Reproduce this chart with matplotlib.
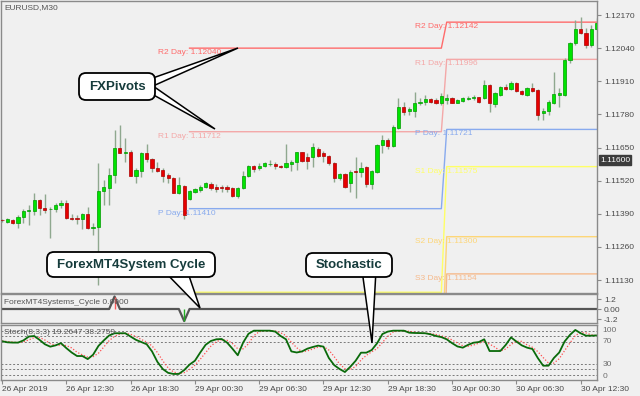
import numpy as np
import matplotlib.pyplot as plt
from matplotlib.patches import FancyBboxPatch, Polygon
from matplotlib.transforms import blended_transform_factory

plt.rcParams['font.family'] = ['Liberation Sans', 'DejaVu Sans']

# EURUSD M30 candles, bar 0 = 26 Apr 06:30
opens = [1.11367, 1.11359, 1.11366, 1.11353, 1.11379, 1.11401, 1.11402, 1.11444, 1.11414, 1.11407,
         1.11408, 1.11424, 1.11431, 1.11375, 1.11371, 1.11368, 1.11389, 1.11333, 1.11337, 1.11479,
         1.11490, 1.11542, 1.11647, 1.11627, 1.11634, 1.11539, 1.11559, 1.11630, 1.11605, 1.11568,
         1.11562, 1.11542, 1.11532, 1.11473, 1.11499, 1.11448, 1.11477, 1.11483, 1.11496, 1.11507,
         1.11496, 1.11493, 1.11494, 1.11490, 1.11460, 1.11490, 1.11538, 1.11577, 1.11568, 1.11579,
         1.11584, 1.11585, 1.11579, 1.11572, 1.11585, 1.11594, 1.11631, 1.11614, 1.11614, 1.11645,
         1.11630, 1.11618, 1.11590, 1.11529, 1.11545, 1.11512, 1.11556, 1.11555, 1.11572, 1.11506,
         1.11555, 1.11660, 1.11680, 1.11656, 1.11725, 1.11810, 1.11793, 1.11795, 1.11824, 1.11830,
         1.11840, 1.11837, 1.11824, 1.11837, 1.11843, 1.11826, 1.11834, 1.11840, 1.11846, 1.11847,
         1.11843, 1.11895, 1.11820, 1.11856, 1.11889, 1.11880, 1.11905, 1.11872, 1.11856, 1.11885,
         1.11876, 1.11784, 1.11793, 1.11824, 1.11856, 1.11856, 1.11994, 1.12059, 1.12114, 1.12101,
         1.12052, 1.12114]
highs = [1.11369, 1.11375, 1.11368, 1.11385, 1.11408, 1.11424, 1.11473, 1.11447, 1.11468, 1.11415,
         1.11431, 1.11444, 1.11444, 1.11389, 1.11385, 1.11394, 1.11418, 1.11353, 1.11590, 1.11523,
         1.11571, 1.11719, 1.11738, 1.11686, 1.11640, 1.11568, 1.11634, 1.11663, 1.11607, 1.11594,
         1.11568, 1.11549, 1.11536, 1.11536, 1.11503, 1.11483, 1.11490, 1.11503, 1.11514, 1.11516,
         1.11507, 1.11503, 1.11503, 1.11496, 1.11496, 1.11559, 1.11581, 1.11581, 1.11588, 1.11592,
         1.11601, 1.11592, 1.11581, 1.11663, 1.11601, 1.11634, 1.11634, 1.11627, 1.11669, 1.11651,
         1.11638, 1.11621, 1.11594, 1.11551, 1.11549, 1.11562, 1.11614, 1.11594, 1.11577, 1.11562,
         1.11664, 1.11699, 1.11686, 1.11738, 1.11843, 1.11830, 1.11810, 1.11869, 1.11843, 1.11856,
         1.11843, 1.11843, 1.11863, 1.11860, 1.11847, 1.11840, 1.11849, 1.11852, 1.11856, 1.11849,
         1.11915, 1.11899, 1.11869, 1.11891, 1.11899, 1.11912, 1.11908, 1.11876, 1.11886, 1.11902,
         1.11879, 1.11804, 1.11837, 1.11948, 1.11884, 1.12000, 1.12065, 1.12151, 1.12161, 1.12118,
         1.12131, 1.12157]
lows = [1.11358, 1.11355, 1.11350, 1.11333, 1.11353, 1.11346, 1.11385, 1.11385, 1.11392, 1.11294,
        1.11398, 1.11411, 1.11368, 1.11366, 1.11350, 1.11329, 1.11329, 1.11307, 1.11110, 1.11424,
        1.11424, 1.11512, 1.11627, 1.11594, 1.11538, 1.11510, 1.11533, 1.11594, 1.11555, 1.11555,
        1.11516, 1.11510, 1.11470, 1.11468, 1.11368, 1.11444, 1.11473, 1.11477, 1.11492, 1.11483,
        1.11477, 1.11477, 1.11477, 1.11457, 1.11451, 1.11486, 1.11536, 1.11555, 1.11562, 1.11575,
        1.11577, 1.11565, 1.11568, 1.11568, 1.11559, 1.11562, 1.11594, 1.11565, 1.11575, 1.11614,
        1.11594, 1.11581, 1.11516, 1.11523, 1.11490, 1.11477, 1.11451, 1.11536, 1.11496, 1.11486,
        1.11551, 1.11627, 1.11643, 1.11651, 1.11722, 1.11778, 1.11778, 1.11771, 1.11817, 1.11817,
        1.11826, 1.11821, 1.11817, 1.11821, 1.11824, 1.11824, 1.11830, 1.11837, 1.11837, 1.11824,
        1.11839, 1.11791, 1.11810, 1.11852, 1.11876, 1.11876, 1.11869, 1.11856, 1.11852, 1.11869,
        1.11758, 1.11758, 1.11778, 1.11820, 1.11809, 1.11852, 1.11981, 1.12052, 1.12096, 1.12039,
        1.12046, 1.12111]
closes = [1.11364, 1.11368, 1.11353, 1.11379, 1.11401, 1.11403, 1.11444, 1.11414, 1.11405, 1.11409,
          1.11424, 1.11433, 1.11372, 1.11368, 1.11369, 1.11388, 1.11333, 1.11339, 1.11481, 1.11496,
          1.11542, 1.11647, 1.11630, 1.11634, 1.11539, 1.11562, 1.11630, 1.11605, 1.11568, 1.11559,
          1.11539, 1.11529, 1.11473, 1.11503, 1.11385, 1.11479, 1.11486, 1.11496, 1.11510, 1.11490,
          1.11487, 1.11491, 1.11487, 1.11461, 1.11490, 1.11538, 1.11577, 1.11566, 1.11579, 1.11588,
          1.11586, 1.11579, 1.11572, 1.11588, 1.11594, 1.11631, 1.11597, 1.11598, 1.11651, 1.11617,
          1.11618, 1.11588, 1.11529, 1.11545, 1.11496, 1.11555, 1.11554, 1.11568, 1.11506, 1.11558,
          1.11660, 1.11680, 1.11657, 1.11732, 1.11810, 1.11791, 1.11800, 1.11826, 1.11830, 1.11840,
          1.11830, 1.11824, 1.11852, 1.11846, 1.11826, 1.11837, 1.11843, 1.11846, 1.11848, 1.11827,
          1.11895, 1.11824, 1.11863, 1.11886, 1.11880, 1.11905, 1.11872, 1.11859, 1.11882, 1.11873,
          1.11778, 1.11793, 1.11830, 1.11860, 1.11862, 1.11994, 1.12059, 1.12114, 1.12098, 1.12052,
          1.12114, 1.12138]

# daily pivots: 29 Apr (from bar 35) and 30 Apr (from bar 83)
pivot_names = ['R2', 'R1', 'P', 'S1', 'S2', 'S3']
pivots_29apr = [1.12040, 1.11712, 1.11410, 1.11082, 1.10780, 1.10452]
pivots_30apr = [1.12142, 1.11996, 1.11721, 1.11575, 1.11300, 1.11154]
pivot_colors = ['#ff6b6b', '#f4a8a8', '#88aaee', '#ffff66', '#fdd678', '#f6ba8c']
day1_bar, day2_bar = 35, 83

# ForexMT4Systems_Cycle: flat except two spikes
cycle_spikes = {21: 1.5, 34: -1.45}

# Stoch(8,3,3) main and signal
stoch_main = [70.5, 68.5, 68, 68, 72, 79, 80, 73, 65, 60.6, 63, 67, 58, 50, 43.6, 43.6, 38, 46, 62, 72,
              81, 85, 85, 85, 79, 73, 69, 65, 52, 33, 20, 13, 11, 11, 18, 28, 35, 50, 64, 71,
              74, 74.5, 68, 57, 45, 68, 84, 89.7, 89.7, 89.7, 89.7, 88, 80, 74, 52, 50, 52, 57, 60, 62.5,
              60.6, 40, 27, 20, 14.5, 24, 35, 49.7, 49.7, 54.5, 66.7, 83.6, 88, 89.7, 89.7, 89.7, 86, 85.5, 85.3, 85,
              83, 80, 78, 74, 67, 61, 58.8, 64, 67.8, 69, 74, 52.7, 52.7, 52.7, 63.6, 77.5, 70, 63, 58.8, 56.4,
              40, 26, 26, 40, 50, 70, 82, 91, 85, 80.6, 80.6, 81]
stoch_signal = [71, 70, 69, 68.2, 69.3, 73, 77, 77.3, 72.7, 66.2, 62.9, 63.5, 62.7, 58.3, 50.5, 45.7, 41.7, 42.5, 48.7, 60,
                71.7, 79.3, 83.7, 85, 83, 79, 73.7, 69, 62, 50, 35, 22, 14.7, 11.7, 13.3, 19, 27, 37.7, 49.7, 61.7,
                69.7, 73.2, 72.2, 66.5, 56.7, 56.7, 65.7, 80.6, 87.8, 89.7, 89.7, 89.1, 85.9, 80.7, 68.7, 58.7, 51.3, 53, 56.3, 59.8,
                61, 54.4, 42.5, 29, 20.5, 19.5, 24.5, 36.2, 44.8, 51.3, 57, 68.3, 79.4, 87.1, 89.1, 89.7, 88.5, 87.1, 85.6, 85.3,
                84.4, 82.7, 80.3, 77.3, 73, 67.3, 62.3, 61.3, 63.5, 67, 70.3, 65.2, 59.8, 52.7, 56.3, 64.6, 70.4, 70.2, 63.9, 59.4,
                51.7, 40.8, 30.7, 30.7, 38.7, 53.3, 67.3, 81, 86, 85.5, 82, 80.7]
stoch_levels = [90, 80, 70, 30, 20, 10]
stoch_scale_labels = ['100', '70', '30', '0']

price_ticks = [1.12170, 1.12040, 1.11910, 1.11780, 1.11650, 1.11520, 1.11390, 1.11260, 1.11130]
current_price = 1.11600
time_ticks = [0, 12, 24, 36, 48, 60, 72, 84, 96, 108]
time_labels = ['26 Apr 2019', '26 Apr 12:30', '26 Apr 18:30', '29 Apr 00:30', '29 Apr 06:30',
               '29 Apr 12:30', '29 Apr 18:30', '30 Apr 00:30', '30 Apr 06:30', '30 Apr 12:30']

BG = '#f0f0f0'
FRAME = '#8a8a8a'
TXT = '#4a4a4a'
W, H = 640, 396

fig = plt.figure(figsize=(6.4, 3.96), dpi=100, facecolor=BG)


def panel(top, bottom):
    a = fig.add_axes([1 / W, 1 - bottom / H, 596 / W, (bottom - top) / H])
    a.set_facecolor(BG)
    for s in a.spines.values():
        s.set_color(FRAME)
        s.set_linewidth(1)
    a.set_xlim(-0.19, 111.05)
    a.yaxis.tick_right()
    a.tick_params(axis='y', length=3, width=0.8, color=FRAME, labelsize=6, labelcolor=TXT, pad=2)
    a.tick_params(axis='x', bottom=False, labelbottom=False)
    return a


ax = panel(1, 293)
axc = panel(294, 323)
axs = panel(325, 380)

# price panel
ax.set_ylim(1.11079, 1.12225)
ax.set_yticks(price_ticks)
ax.set_yticklabels([f'{p:.5f}' for p in price_ticks])

x = np.arange(len(opens))
o = np.array(opens)
c = np.array(closes)
up = c >= o
body = np.maximum(np.abs(c - o), 0.00003)
base = np.minimum(o, c)
ax.vlines(x, lows, highs, color='#8fa88f', lw=1, zorder=2)
ax.bar(x[up], body[up], bottom=base[up], width=0.6, color='#00e400',
       edgecolor='#009a00', lw=0.5, zorder=3)
ax.bar(x[~up], body[~up], bottom=base[~up], width=0.6, color='#e60000',
       edgecolor='#aa0000', lw=0.5, zorder=3)

for name, p0, p1, col in zip(pivot_names, pivots_29apr, pivots_30apr, pivot_colors):
    ax.plot([day1_bar, day2_bar - 1, day2_bar, 112], [p0, p0, p1, p1], color=col, lw=1, zorder=1)
    for xs, v in ((day1_bar, p0), (day2_bar, p1)):
        ax.annotate(f'{name} Day: {v:.5f}', (xs, v), xytext=(-32, -1), textcoords='offset pixels',
                    ha='left', va='top', fontsize=6, color=col, clip_on=True, annotation_clip=True)

ax.text(1 + 3 / 596, current_price, f'{current_price:.5f}',
        transform=blended_transform_factory(ax.transAxes, ax.transData),
        ha='left', va='center', fontsize=6, color='white',
        bbox=dict(boxstyle='square,pad=0.15', fc='#3c3c3c', ec='#3c3c3c'))

# cycle panel
cycle = np.zeros(len(opens))
for b, v in cycle_spikes.items():
    cycle[b] = v
axc.plot(x, cycle, color='#555555', lw=1.6)
for b, v in cycle_spikes.items():
    axc.vlines(b, 0, v, color='#ff5a5a' if v > 0 else '#20b020', lw=1, zorder=3)
axc.set_ylim(-1.68, 1.8)
axc.set_yticks([1.2, 0, -1.2])
axc.set_yticklabels(['1.2', '0.00', '-1.2'])

# stochastic panel
axs.set_ylim(0, 100)
for lv in stoch_levels:
    axs.axhline(lv, color='#7a7a7a', lw=0.7, ls=(0, (2, 2)))
axs.plot(x, stoch_signal, color='#ff5050', lw=0.9, ls=(0, (1, 1.5)))
axs.plot(x, stoch_main, color='#0a6a0a', lw=1.3)
axs.set_yticks([91, 71, 30, 8])
axs.set_yticklabels(stoch_scale_labels)
axs.tick_params(axis='y', length=0, pad=4, labelcolor='#707070')
axs.set_xticks(time_ticks)
axs.set_xticklabels(time_labels, ha='left')
axs.tick_params(axis='x', bottom=True, labelbottom=True, length=3, width=0.8, color=FRAME,
                labelsize=6, labelcolor=TXT, pad=1)

# overlay in pixel units for captions and callouts
ov = fig.add_axes([0, 0, 1, 1])
ov.set_xlim(0, W)
ov.set_ylim(H, 0)
ov.axis('off')
ov.patch.set_visible(False)

ov.text(4, 8, 'EURUSD,M30', fontsize=6, color='#555555', va='center')
ov.text(4, 302, 'ForexMT4Systems_Cycle 0.0000', fontsize=6, color='#555555', va='center')
ov.text(4, 332, 'Stoch(8,3,3) 19.2647 38.2759', fontsize=6, color='#555555', va='center')

callouts = [
    ('FXPivots', (79, 73, 76, 27), [[(150, 79), (238, 48), (153, 86)], [(153, 86), (215, 129), (150, 93)]]),
    ('ForexMT4System Cycle', (47, 252, 168, 25), [[(163, 270), (200, 308), (187, 270)]]),
    ('Stochastic', (306, 253, 86, 24), [[(362, 270), (372, 343), (376, 270)]]),
]
for label, (bx, by, bw, bh), wedges in callouts:
    for pts in wedges:
        ov.add_patch(Polygon(pts, closed=True, fc='white', ec='black', lw=1.1, zorder=5))
    ov.add_patch(FancyBboxPatch((bx, by), bw, bh, boxstyle='round,pad=0,rounding_size=7',
                                fc='white', ec='black', lw=1.3, zorder=6))
    ov.text(bx + bw / 2, by + bh / 2 + 0.5, label, ha='center', va='center', fontsize=9.5,
            fontweight='bold', color='#163c3c', zorder=7)

fig.savefig('out.png', dpi=100, facecolor=BG)
